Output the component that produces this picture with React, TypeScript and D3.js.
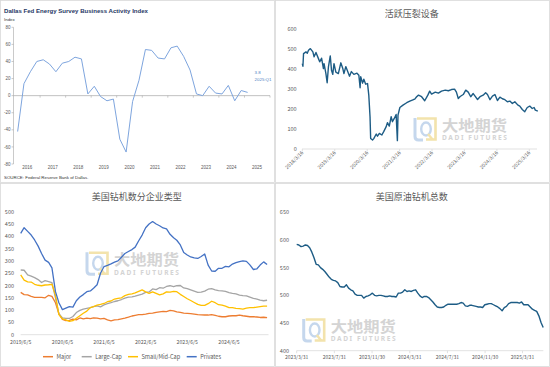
import React from 'react';
import * as d3 from 'd3';

// ---- panel 1: Dallas Fed energy survey, business activity index (quarterly from 2016:Q1)
const dallasIndex = [-42, 14, 28, 40, 42, 37, 28, 38, 40, 45, 43, 2, 11, -1, -6, -4, -51, -66, -7, 18,
  54, 53, 44, 43, 56, 58, 46, 30, 2, 0, 11, 3, 2, 12, -6, 6, 3.8];
const dallasYears = d3.range(2016, 2026);
const dallasYTicks = d3.range(-80, 81, 20);

// ---- panel 2: active frac spreads, weeks counted from 2018/3/16
const fracWeek = [0, 1, 2, 6, 8, 10, 13, 17, 19, 22, 26, 28, 31, 34, 35, 38, 40, 42, 45, 47, 49, 51, 54, 58, 62,
  65, 67, 70, 72, 76, 79, 83, 88, 91, 93, 94, 97, 99, 102, 105, 107, 109, 110, 113, 115, 119, 121, 124, 128,
  131, 135, 137, 140, 143, 145, 148, 151, 153, 154, 157, 162, 168, 173, 179, 181, 184, 187, 192, 197, 202,
  205, 208, 214, 219, 224, 230, 235, 240, 245, 248, 251, 254, 259, 263, 267, 271, 275, 278, 282, 286, 291,
  295, 298, 302, 306, 310, 314, 318, 322, 326, 330, 334, 338, 342, 347, 350, 354, 358, 362, 366, 370, 373,
  375, 379];
const fracValue = [428, 415, 478, 487, 480, 495, 503, 487, 462, 484, 453, 437, 455, 403, 428, 378, 332, 410, 467,
  395, 374, 428, 385, 378, 432, 405, 378, 413, 397, 365, 388, 374, 380, 370, 307, 362, 330, 350, 325, 328,
  270, 162, 53, 45, 52, 75, 64, 78, 70, 87, 112, 132, 115, 162, 137, 153, 173, 42, 170, 208, 220, 232, 240,
  248, 250, 262, 270, 262, 242, 270, 290, 275, 285, 280, 290, 295, 292, 298, 300, 285, 253, 263, 273, 295,
  285, 262, 278, 265, 248, 262, 270, 282, 273, 247, 265, 273, 243, 260, 252, 247, 237, 240, 228, 237, 220,
  215, 198, 187, 208, 215, 203, 208, 195, 190];
const fracYTicks = d3.range(0, 601, 100);
const fracTickYears = d3.range(2018, 2026);

// ---- panel 3: US rigs by operator type, monthly from 2019/6/5
const rigTypeNames = ['Major', 'Large-Cap', 'Small/Mid-Cap', 'Privates'];
const rigTypeColors = ['#ed7d31', '#a5a5a5', '#ffc000', '#4472c4'];
const majorRigs = [172, 163, 162, 156, 152, 152, 152, 150, 160, 156, 130, 85, 62, 57, 58, 63, 60, 68, 64, 67,
  65, 68, 67, 64, 66, 60, 56, 60, 61, 64, 67, 71, 76, 79, 82, 82, 84, 87, 88, 91, 93, 95, 94, 99, 97, 93, 91,
  88, 87, 86, 84, 82, 81, 80, 80, 82, 79, 75, 73, 73, 76, 77, 77, 80, 77, 75, 73, 73, 72, 70, 71, 69];
const largeCapRigs = [263, 262, 243, 238, 232, 224, 212, 220, 216, 212, 150, 85, 68, 66, 66, 74, 90, 99, 104, 107,
  110, 114, 117, 113, 121, 126, 130, 135, 138, 143, 149, 153, 154, 157, 161, 165, 172, 174, 186, 183, 191,
  189, 196, 199, 195, 199, 200, 190, 187, 182, 177, 172, 173, 177, 185, 187, 182, 179, 178, 176, 171, 168,
  166, 161, 159, 158, 153, 148, 145, 141, 138, 140];
const smallMidRigs = [243, 222, 215, 214, 205, 201, 199, 202, 203, 205, 160, 82, 64, 60, 54, 57, 67, 77, 87, 96,
  110, 114, 120, 123, 127, 134, 137, 145, 148, 150, 159, 164, 166, 170, 176, 182, 174, 168, 174, 168, 162,
  166, 174, 173, 176, 175, 164, 155, 146, 139, 131, 123, 119, 119, 126, 136, 130, 122, 120, 116, 110, 110,
  107, 106, 104, 108, 110, 110, 112, 114, 116, 116];
const privateRigs = [412, 435, 420, 405, 385, 360, 330, 303, 294, 272, 175, 130, 102, 108, 114, 112, 138, 153,
  163, 175, 178, 189, 203, 250, 277, 282, 288, 295, 300, 315, 330, 338, 346, 356, 382, 405, 435, 450, 460,
  450, 443, 434, 430, 408, 394, 384, 365, 334, 324, 316, 312, 310, 318, 328, 283, 259, 258, 270, 270, 278,
  276, 287, 293, 297, 300, 298, 284, 265, 268, 283, 296, 285];
const rigTypeSeries = [majorRigs, largeCapRigs, smallMidRigs, privateRigs];
const rigTypeYTicks = d3.range(0, 501, 50);
const rigTypeTickYears = d3.range(2019, 2025);

// ---- panel 4: US oil rig count, weekly from 2023/3/31
const oilRigs = [592, 591, 588, 589, 591, 590, 586, 578, 568, 556, 555, 550, 547, 543, 538, 533, 529, 527, 526,
  523, 516, 515, 515, 519, 513, 510, 508, 502, 500, 500, 500, 495, 498, 499, 501, 504, 500, 499, 500, 500, 499,
  498, 498, 499, 498, 498, 497, 504, 504, 506, 510, 507, 508, 507, 509, 510, 504, 499, 496, 498, 498, 496,
  492, 488, 483, 479, 478, 478, 479, 482, 484, 484, 484, 484, 484, 485, 487, 486, 481, 480, 482, 482, 481,
  480, 479, 479, 478, 483, 484, 485, 485, 483, 481, 479, 476, 472, 478, 480, 485, 487, 487, 487, 487, 486,
  488, 483, 483, 483, 479, 475, 473, 471, 463, 451, 442];
const oilYTicks = d3.range(400, 651, 50);

const fmt = (d: Date) => `${d.getFullYear()}/${d.getMonth() + 1}/${d.getDate()}`;
const addDays = (d: Date, n: number) => new Date(d.getFullYear(), d.getMonth(), d.getDate() + n);

const CJK = '"Noto Sans CJK SC", "Noto Sans", sans-serif';
const GREY = '#595959';
const AXIS = '#d9d9d9';

function Watermark({ x, y }: { x: number; y: number }) {
  return (
    <g transform={`translate(${x},${y})`} opacity={0.85}>
      <path d="M4,1.5 H22.5 V22.5 H13" fill="none" stroke="#f1df9e" strokeWidth={2.6} />
      <path d="M2,1 V19.5 Q2,23 5.5,23 H10" fill="none" stroke="#bcd1ea" strokeWidth={3} />
      <ellipse cx={13} cy={12} rx={4.8} ry={6.5} fill="none" stroke="#bcd1ea" strokeWidth={2.4} />
      <path d="M15,17 L19.5,22.5" stroke="#f1df9e" strokeWidth={2.4} />
      <text x={29} y={13.5} fontFamily={CJK} fontWeight={700} fontSize={14.5} fill="#cdcdcd"
        textLength={65} lengthAdjust="spacingAndGlyphs">大地期货</text>
      <text x={29} y={23.3} fontFamily='"Noto Sans", sans-serif' fontWeight={700} fontSize={6.6} fill="#cdcdcd"
        textLength={65} lengthAdjust="spacing">DADI FUTURES</text>
    </g>
  );
}

function DallasPanel() {
  const x = d3.scaleTime().domain([new Date(2016, 0, 1), new Date(2026, 0, 1)]).range([14.5, 270]);
  const y = d3.scaleLinear().domain([-80, 80]).range([164, 27.3]);
  const dates = dallasIndex.map((_, i) => new Date(2016, i * 3 + 1, 15));
  const line = d3.line<number>().x((_, i) => x(dates[i])).y(d => y(d));
  const last = dallasIndex.length - 1;
  const font = '"Liberation Sans", Arial, sans-serif';
  return (
    <g fontFamily={font}>
      <text x={4} y={13} fontSize={5.6} fontWeight={700} fill="#1f3864" textLength={144}
        lengthAdjust="spacingAndGlyphs">Dallas Fed Energy Survey Business Activity Index</text>
      <text x={4} y={20.5} fontSize={4.4} fill="#333">Index</text>
      <line x1={13.5} x2={13.5} y1={y(80)} y2={y(-80)} stroke="#a6a6a6" strokeWidth={0.6} />
      {dallasYTicks.map(t => (
        <g key={t}>
          <line x1={11.5} x2={13.5} y1={y(t)} y2={y(t)} stroke="#a6a6a6" strokeWidth={0.6} />
          <text x={10.5} y={y(t) + 1.6} fontSize={4.5} textAnchor="end" fill={GREY}>{t}</text>
        </g>
      ))}
      <line x1={13.5} x2={270} y1={y(0)} y2={y(0)} stroke="#a6a6a6" strokeWidth={0.7} />
      {dallasYears.map(yr => (
        <g key={yr}>
          <line x1={x(new Date(yr + 1, 0, 1))} x2={x(new Date(yr + 1, 0, 1))} y1={y(0)} y2={y(0) + 2}
            stroke="#a6a6a6" strokeWidth={0.6} />
          <text x={x(new Date(yr, 6, 1))} y={169.4} fontSize={4.5} textAnchor="middle" fill={GREY}>{yr}</text>
        </g>
      ))}
      <path d={line(dallasIndex) || ''} fill="none" stroke="#7ea5de" strokeWidth={1} />
      <text x={x(dates[last]) + 7} y={y(dallasIndex[last]) - 18} fontSize={4.4} fill="#4f7fc4">{dallasIndex[last]}</text>
      <text x={x(dates[last]) + 7} y={y(dallasIndex[last]) - 11} fontSize={4.4} fill="#4f7fc4">2025:Q1</text>
      <text x={4} y={178.8} fontSize={4.4} fill="#333">SOURCE:  Federal Reserve Bank of Dallas.</text>
    </g>
  );
}

function FracPanel() {
  const start = new Date(2018, 2, 16);
  const x = d3.scaleTime().domain([start, new Date(2025, 2, 16)]).range([302.3, 529.3]);
  const y = d3.scaleLinear().domain([0, 600]).range([149, 29.3]);
  const line = d3.line<number>().x((_, i) => x(addDays(start, fracWeek[i] * 7))).y(d => y(d));
  return (
    <g fontFamily={CJK}>
      <text x={411.7} y={16.6} fontSize={9} textAnchor="middle" fill={GREY}>活跃压裂设备</text>
      <Watermark x={413} y={117} />
      {fracYTicks.map(t => (
        <text key={t} x={296.7} y={y(t) + 2} fontSize={5.5} textAnchor="end" fill={GREY}>{t}</text>
      ))}
      <line x1={302} x2={537} y1={y(0)} y2={y(0)} stroke={AXIS} strokeWidth={0.8} />
      {fracTickYears.map(yr => {
        const d = new Date(yr, 2, 16);
        const tx = x(d);
        return (
          <g key={yr}>
            <line x1={tx} x2={tx} y1={y(0)} y2={y(0) + 2.5} stroke={AXIS} strokeWidth={0.8} />
            <text transform={`translate(${tx + 1.5},${y(0) + 4}) rotate(-45)`} fontSize={5} textAnchor="end"
              fill={GREY}>{fmt(d)}</text>
          </g>
        );
      })}
      <path d={line(fracValue) || ''} fill="none" stroke="#1d5c85" strokeWidth={1.4} strokeLinejoin="round" />
    </g>
  );
}

function RigTypePanel() {
  const start = new Date(2019, 5, 5);
  const x = d3.scaleTime().domain([start, new Date(2024, 5, 5)]).range([20.7, 229]);
  const y = d3.scaleLinear().domain([0, 500]).range([334.7, 211.7]);
  const line = d3.line<number>().x((_, i) => x(new Date(2019, 5 + i, 5))).y(d => y(d));
  const legendX = [43, 81.7, 128, 186.7];
  return (
    <g fontFamily={CJK}>
      <text x={136.7} y={199.6} fontSize={9} textAnchor="middle" fill={GREY}>美国钻机数分企业类型</text>
      <Watermark x={85} y={251.3} />
      {rigTypeYTicks.map(t => (
        <text key={t} x={14} y={y(t) + 2} fontSize={5.5} textAnchor="end" fill={GREY}>{t}</text>
      ))}
      <line x1={20.7} x2={268.5} y1={y(0)} y2={y(0)} stroke={AXIS} strokeWidth={0.8} />
      {rigTypeTickYears.map(yr => {
        const d = new Date(yr, 5, 5);
        const label = fmt(d);
        const half = label.length * 1.42;
        return (
          <text key={yr} x={Math.max(x(d), half + 1)} y={344.2} fontSize={5.2} textAnchor="middle"
            fill={GREY}>{label}</text>
        );
      })}
      {rigTypeSeries.map((s, k) => (
        <path key={k} d={line(s) || ''} fill="none" stroke={rigTypeColors[k]} strokeWidth={1.3}
          strokeLinejoin="round" />
      ))}
      {rigTypeNames.map((n, k) => (
        <g key={n}>
          <line x1={legendX[k]} x2={legendX[k] + 10} y1={356.7} y2={356.7} stroke={rigTypeColors[k]} strokeWidth={1.5} />
          <text x={legendX[k] + 13.5} y={358.8} fontSize={5.6} fill={GREY}>{n}</text>
        </g>
      ))}
    </g>
  );
}

function OilRigPanel() {
  const start = new Date(2023, 2, 31);
  const x = d3.scaleTime().domain([start, new Date(2025, 2, 31)]).range([296.7, 522.5]);
  const y = d3.scaleLinear().domain([400, 650]).range([350.7, 212.3]);
  const line = d3.line<number>().x((_, i) => x(addDays(start, i * 7))).y(d => y(d));
  const ticks = d3.range(0, 7).map(k => new Date(2023, 3 + 4 * k, 0));
  return (
    <g fontFamily={CJK}>
      <text x={411.7} y={199.6} fontSize={9} textAnchor="middle" fill={GREY}>美国原油钻机总数</text>
      <Watermark x={301.7} y={318} />
      {oilYTicks.map(t => (
        <text key={t} x={289} y={y(t) + 2} fontSize={5.5} textAnchor="end" fill={GREY}>{t}</text>
      ))}
      <line x1={296.7} x2={543.3} y1={y(400)} y2={y(400)} stroke={AXIS} strokeWidth={0.8} />
      {ticks.map((d, k) => {
        const tx = x(d);
        const label = fmt(d);
        const half = label.length * 1.38;
        return (
          <g key={k}>
            <line x1={tx} x2={tx} y1={y(400)} y2={y(400) + 2.5} stroke={AXIS} strokeWidth={0.8} />
            <text x={Math.max(tx, 275 + half + 1)} y={359.3} fontSize={5} textAnchor="middle" fill={GREY}>{label}</text>
          </g>
        );
      })}
      <path d={line(oilRigs) || ''} fill="none" stroke="#1d5c85" strokeWidth={1.4} strokeLinejoin="round" />
    </g>
  );
}

export default function App() {
  return (
    <svg width={550} height={367} viewBox="0 0 550 367"
      style={{ position: 'absolute', left: 0, top: 0, background: '#fff' }}>
      <rect x={0} y={0} width={550} height={367} fill="#fff" />
      <DallasPanel />
      <FracPanel />
      <RigTypePanel />
      <OilRigPanel />
      <rect x={0.5} y={0.5} width={274} height={182} fill="none" stroke={AXIS} strokeWidth={0.8} />
      <rect x={275.5} y={0.5} width={274} height={182} fill="none" stroke={AXIS} strokeWidth={0.8} />
      <rect x={0.5} y={183.5} width={274} height={183} fill="none" stroke={AXIS} strokeWidth={0.8} />
      <rect x={275.5} y={183.5} width={274} height={183} fill="none" stroke={AXIS} strokeWidth={0.8} />
    </svg>
  );
}
